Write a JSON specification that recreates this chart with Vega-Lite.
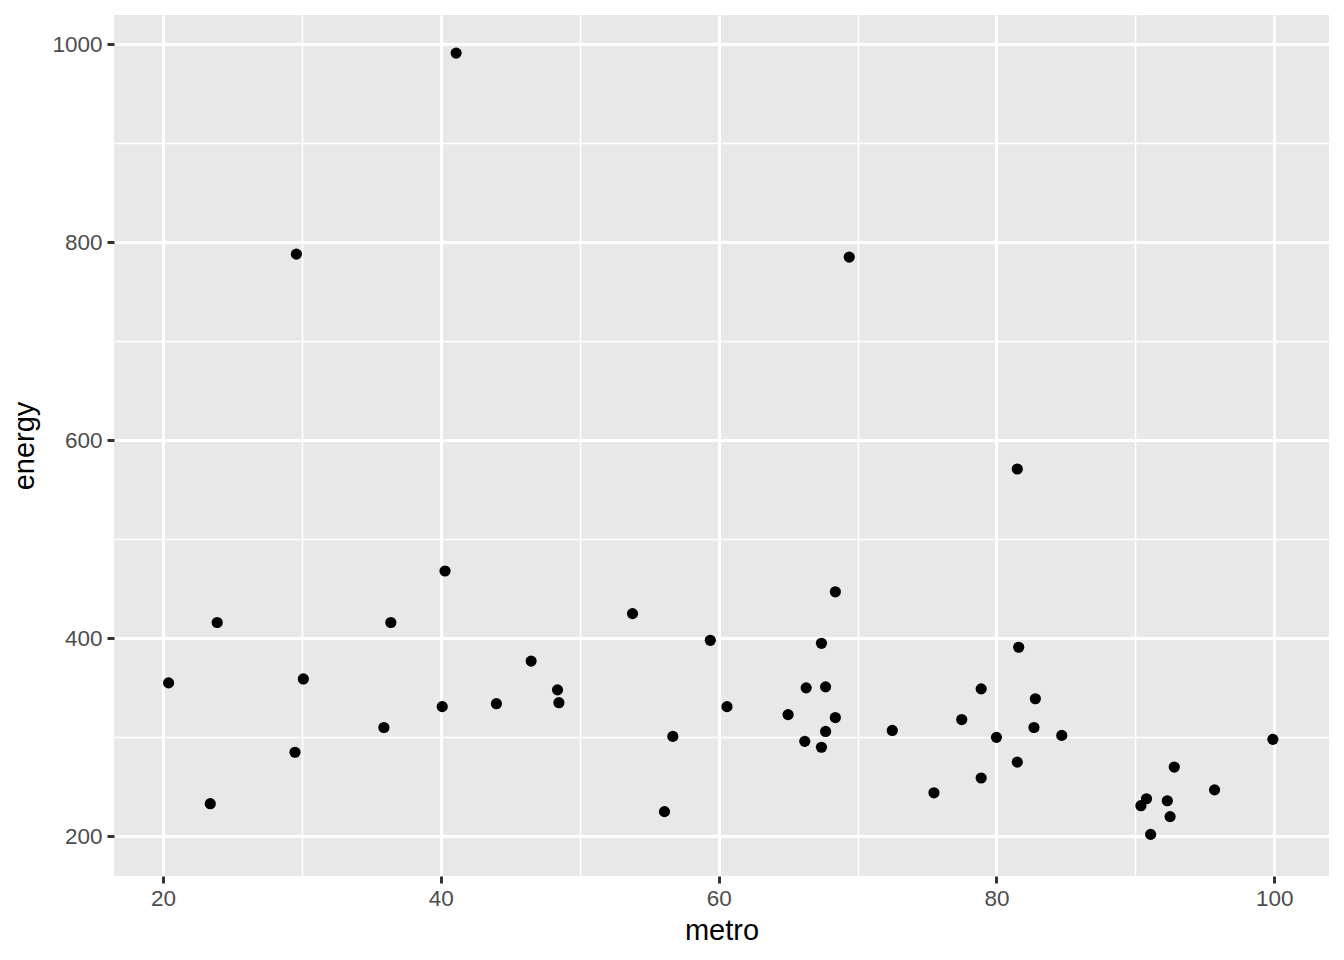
{
  "$schema": "https://vega.github.io/schema/vega-lite/v6.json",
  "width": 1215,
  "height": 861,
  "autosize": {"type": "none"},
  "padding": {"left": 114, "top": 15, "right": 15, "bottom": 84},
  "background": "white",
  "config": {
    "view": {"fill": "#E8E8E8", "stroke": null},
    "font": "Liberation Sans"
  },
  "data": {
    "values": [
      {"metro": 20.4, "energy": 355},
      {"metro": 23.4, "energy": 233},
      {"metro": 23.9, "energy": 416},
      {"metro": 29.6, "energy": 788},
      {"metro": 29.5, "energy": 285},
      {"metro": 30.1, "energy": 359},
      {"metro": 35.9, "energy": 310},
      {"metro": 36.4, "energy": 416},
      {"metro": 40.1, "energy": 331},
      {"metro": 40.3, "energy": 468},
      {"metro": 41.1, "energy": 991},
      {"metro": 44.0, "energy": 334},
      {"metro": 46.5, "energy": 377},
      {"metro": 48.4, "energy": 348},
      {"metro": 48.5, "energy": 335},
      {"metro": 53.8, "energy": 425},
      {"metro": 56.1, "energy": 225},
      {"metro": 56.7, "energy": 301},
      {"metro": 59.4, "energy": 398},
      {"metro": 60.6, "energy": 331},
      {"metro": 65.0, "energy": 323},
      {"metro": 66.2, "energy": 296},
      {"metro": 66.3, "energy": 350},
      {"metro": 67.4, "energy": 395},
      {"metro": 67.4, "energy": 290},
      {"metro": 67.7, "energy": 351},
      {"metro": 67.7, "energy": 306},
      {"metro": 68.4, "energy": 320},
      {"metro": 68.4, "energy": 447},
      {"metro": 69.4, "energy": 785},
      {"metro": 72.5, "energy": 307},
      {"metro": 75.5, "energy": 244},
      {"metro": 77.5, "energy": 318},
      {"metro": 78.9, "energy": 349},
      {"metro": 78.9, "energy": 259},
      {"metro": 80.0, "energy": 300},
      {"metro": 81.5, "energy": 275},
      {"metro": 81.5, "energy": 571},
      {"metro": 81.6, "energy": 391},
      {"metro": 82.7, "energy": 310},
      {"metro": 82.8, "energy": 339},
      {"metro": 84.7, "energy": 302},
      {"metro": 90.4, "energy": 231},
      {"metro": 90.8, "energy": 238},
      {"metro": 91.1, "energy": 202},
      {"metro": 92.3, "energy": 236},
      {"metro": 92.5, "energy": 220},
      {"metro": 92.8, "energy": 270},
      {"metro": 95.7, "energy": 247},
      {"metro": 99.9, "energy": 298}
    ]
  },
  "resolve": {"axis": {"x": "independent", "y": "independent"}},
  "layer": [
    {
      "mark": {"type": "point", "opacity": 0},
      "encoding": {
        "x": {
          "field": "metro", "type": "quantitative",
          "scale": {"domain": [16.47, 103.94], "nice": false, "zero": false},
          "axis": {
            "orient": "bottom", "values": [30, 50, 70, 90], "labels": false, "ticks": false,
            "domain": false, "title": null, "grid": true, "gridColor": "white", "gridWidth": 1.5
          }
        },
        "y": {
          "field": "energy", "type": "quantitative",
          "scale": {"domain": [160, 1029.5], "nice": false, "zero": false},
          "axis": {
            "orient": "left", "values": [300, 500, 700, 900], "labels": false, "ticks": false,
            "domain": false, "title": null, "grid": true, "gridColor": "white", "gridWidth": 1.5
          }
        }
      }
    },
    {
      "mark": {"type": "point", "filled": true, "color": "black", "opacity": 1, "size": 125},
      "encoding": {
        "x": {
          "field": "metro", "type": "quantitative",
          "scale": {"domain": [16.47, 103.94], "nice": false, "zero": false},
          "axis": {
            "orient": "bottom", "values": [20, 40, 60, 80, 100], "format": "d", "title": "metro",
            "grid": true, "gridColor": "white", "gridWidth": 3,
            "domain": false, "tickColor": "#333333", "tickWidth": 3, "tickSize": 7,
            "labelColor": "#4D4D4D", "labelFontSize": 22.5, "labelPadding": 4,
            "titleColor": "black", "titleFontSize": 29, "titleFontWeight": "normal", "titlePadding": 7
          }
        },
        "y": {
          "field": "energy", "type": "quantitative",
          "scale": {"domain": [160, 1029.5], "nice": false, "zero": false},
          "axis": {
            "orient": "left", "values": [200, 400, 600, 800, 1000], "format": "d", "title": "energy",
            "grid": true, "gridColor": "white", "gridWidth": 3,
            "domain": false, "tickColor": "#333333", "tickWidth": 3, "tickSize": 7,
            "labelColor": "#4D4D4D", "labelFontSize": 22.5, "labelPadding": 5,
            "titleColor": "black", "titleFontSize": 29, "titleFontWeight": "normal", "titlePadding": 12
          }
        }
      }
    }
  ]
}
